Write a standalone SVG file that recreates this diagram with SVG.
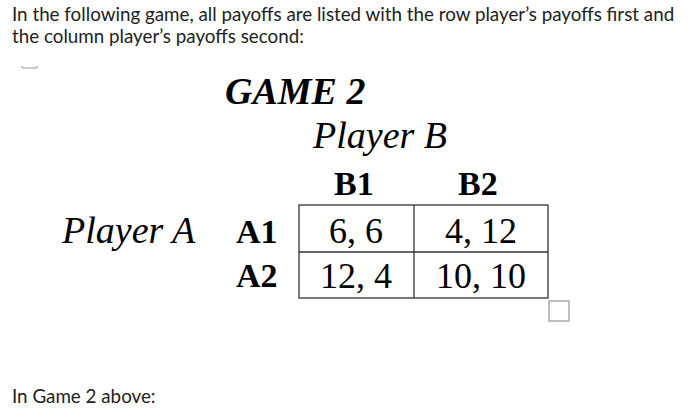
<svg xmlns="http://www.w3.org/2000/svg" width="700" height="420" viewBox="0 0 700 420">
<style>
.s{font-family:Lato,"Liberation Sans",sans-serif;font-size:18.8px;fill:#222}
.t{font-family:"Liberation Serif",serif;fill:#000}
.i{font-style:italic}
.b{font-weight:bold}
.c{font-size:36px;text-anchor:middle}
</style>
<rect width="700" height="420" fill="#fff"/>
<text class="s" x="12" y="21">In the following game, all payoffs are listed with the row player’s payoffs first and</text>
<text class="s" x="12" y="43">the column player’s payoffs second:</text>
<path d="M22 66v2h15v-2" fill="none" stroke="#999" stroke-width="1"/>
<text class="t i b" x="225" y="104" font-size="38">GAME 2</text>
<text class="t i" x="313" y="148" font-size="38">Player B</text>
<text class="t b" x="334" y="195" font-size="34">B1</text>
<text class="t b" x="458" y="195" font-size="34">B2</text>
<text class="t i" x="62" y="243" font-size="38">Player A</text>
<text class="t b" x="236" y="243" font-size="34">A1</text>
<text class="t b" x="236" y="287" font-size="34">A2</text>
<g fill="none" stroke="#333" stroke-width="1.3">
<rect x="299" y="205" width="249" height="93"/>
<line x1="414" y1="205" x2="414" y2="298"/>
<line x1="299" y1="252" x2="548" y2="252"/>
</g>
<text class="t c" x="356" y="243">6, 6</text>
<text class="t c" x="481" y="243">4, 12</text>
<text class="t c" x="356" y="288">12, 4</text>
<text class="t c" x="481" y="288">10, 10</text>
<rect x="549" y="301" width="20" height="20" fill="#fff" stroke="#aaa" stroke-width="1.5"/>
<text class="s" x="12" y="403">In Game 2 above:</text>
</svg>
